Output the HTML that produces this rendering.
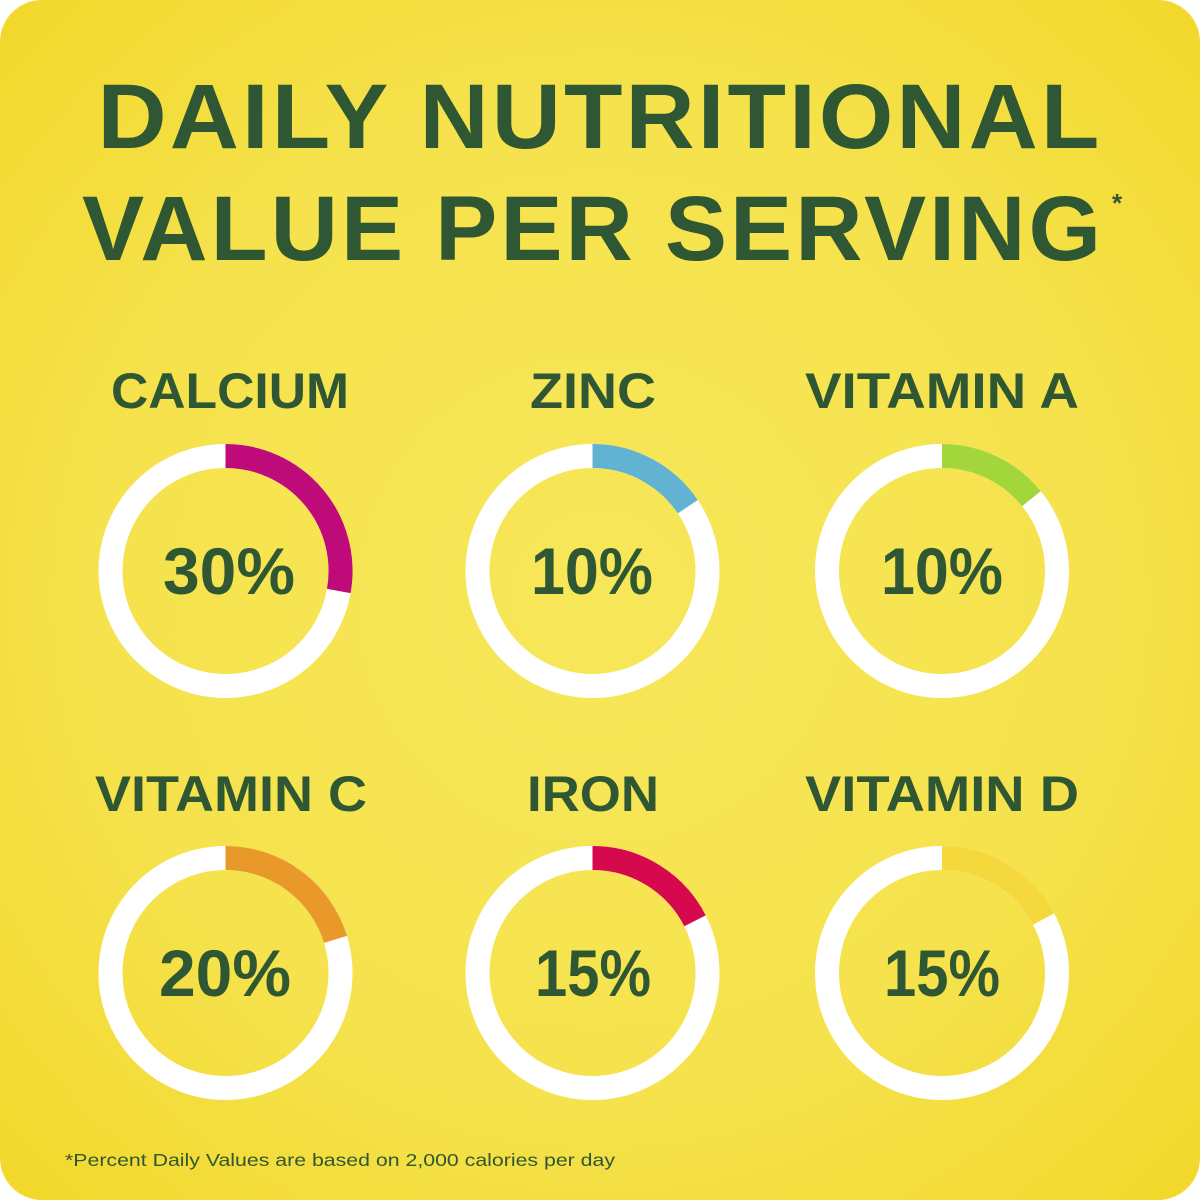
<!DOCTYPE html>
<html><head><style>
html,body{margin:0;padding:0;background:#fff;}
svg{display:block;}
</style></head><body>
<svg width="1200" height="1200" viewBox="0 0 1200 1200" xmlns="http://www.w3.org/2000/svg">
<defs>
<radialGradient id="bg" cx="50%" cy="50%" r="70%">
<stop offset="0" stop-color="#f7e75a"/>
<stop offset="0.6" stop-color="#f5e24c"/>
<stop offset="1" stop-color="#f2d82a"/>
</radialGradient>
</defs>
<rect x="0" y="0" width="1200" height="1200" rx="42" fill="url(#bg)"/>
<g font-family="'Liberation Sans', sans-serif" font-weight="bold" fill="#2f5733" text-anchor="middle">
<text x="600" y="148" font-size="92" letter-spacing="3" textLength="1005" lengthAdjust="spacingAndGlyphs">DAILY NUTRITIONAL</text>
<text x="593" y="260" font-size="92" letter-spacing="3" textLength="1022" lengthAdjust="spacingAndGlyphs">VALUE PER SERVING</text>
<text x="1117" y="212" font-size="26">*</text>
<text x="230" y="408" font-size="50" textLength="238" lengthAdjust="spacingAndGlyphs">CALCIUM</text>
<text x="593" y="408" font-size="50" textLength="126" lengthAdjust="spacingAndGlyphs">ZINC</text>
<text x="942" y="408" font-size="50" textLength="274" lengthAdjust="spacingAndGlyphs">VITAMIN A</text>
<text x="231" y="811" font-size="50" textLength="272" lengthAdjust="spacingAndGlyphs">VITAMIN C</text>
<text x="593" y="811" font-size="50" textLength="132" lengthAdjust="spacingAndGlyphs">IRON</text>
<text x="942" y="811" font-size="50" textLength="274" lengthAdjust="spacingAndGlyphs">VITAMIN D</text>
<g font-size="66">
<text x="229" y="594" textLength="132" lengthAdjust="spacingAndGlyphs">30%</text>
<text x="592" y="594" textLength="122" lengthAdjust="spacingAndGlyphs">10%</text>
<text x="942" y="594" textLength="122" lengthAdjust="spacingAndGlyphs">10%</text>
<text x="225" y="996" textLength="132" lengthAdjust="spacingAndGlyphs">20%</text>
<text x="593" y="996" textLength="116" lengthAdjust="spacingAndGlyphs">15%</text>
<text x="942" y="996" textLength="116" lengthAdjust="spacingAndGlyphs">15%</text>
</g>
</g>
<g fill="none" stroke-width="24">
<circle cx="225.5" cy="571" r="115" stroke="#fff"/>
<circle cx="592.5" cy="571" r="115" stroke="#fff"/>
<circle cx="942" cy="571" r="115" stroke="#fff"/>
<circle cx="225.5" cy="973" r="115" stroke="#fff"/>
<circle cx="592.5" cy="973" r="115" stroke="#fff"/>
<circle cx="942" cy="973" r="115" stroke="#fff"/>
<!-- arcs: start at top, clockwise -->
<path d="M225.5 456 A115 115 0 0 1 338.8 591" stroke="#bf0a7a"/>
<path d="M592.5 456 A115 115 0 0 1 687.8 506.7" stroke="#62b3d2"/>
<path d="M942 456 A115 115 0 0 1 1031.4 498.7" stroke="#a3d63a"/>
<path d="M225.5 858 A115 115 0 0 1 335.5 939.4" stroke="#e8992a"/>
<path d="M592.5 858 A115 115 0 0 1 695 920.8" stroke="#d6094e"/>
<path d="M942 858 A115 115 0 0 1 1043.6 919" stroke="#f5d93c"/>
</g>
<text x="65" y="1166" font-family="'Liberation Sans', sans-serif" font-size="17.5" fill="#2f5733" textLength="550" lengthAdjust="spacingAndGlyphs">*Percent Daily Values are based on 2,000 calories per day</text>
</svg>
</body></html>
